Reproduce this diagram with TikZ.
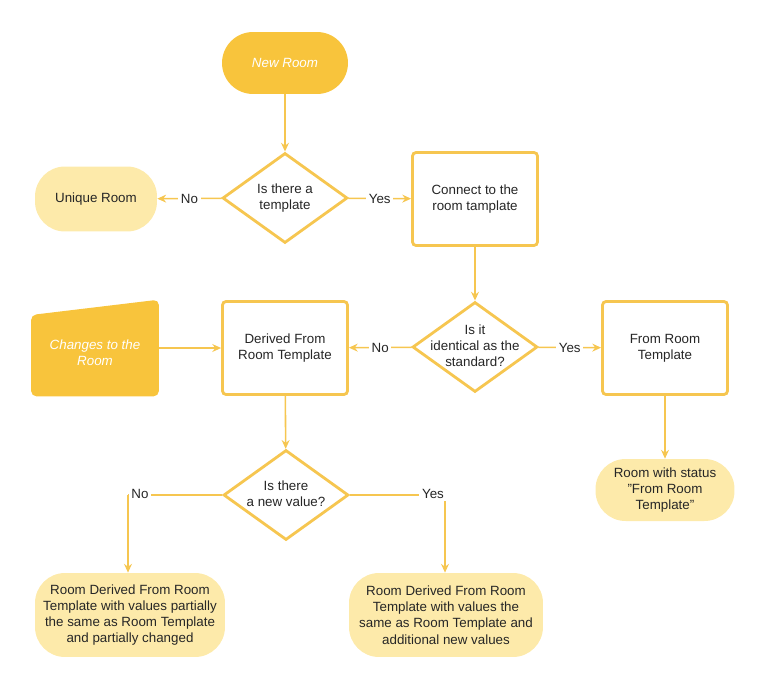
\documentclass[tikz,border=0pt]{standalone}
\usepackage{fontspec}
\setmainfont{Liberation Sans}
\usetikzlibrary{shapes.geometric,arrows.meta,positioning}
\definecolor{goldfill}{RGB}{248,196,60}
\definecolor{palefill}{RGB}{253,234,170}
\definecolor{goldline}{RGB}{246,198,80}
\newcommand{\dlines}[1]{\makebox[0pt]{\begin{tabular}{@{}c@{}}#1\end{tabular}}}

\begin{document}
\begin{tikzpicture}[x=0.02cm,y=-0.02cm,
    every node/.style={font=\fontsize{7.6}{9.2}\selectfont, text=black!85},
    link/.style={goldline, line width=0.9pt, -{Stealth[length=5pt,width=4.5pt]}},
    plain/.style={goldline, line width=0.9pt},
    start/.style={fill=goldfill, draw=none, rounded corners=0.62cm, minimum width=2.52cm, minimum height=1.24cm, text=white, font=\fontsize{7.6}{9.2}\selectfont\itshape},
    endpill/.style={fill=palefill, draw=none, rounded corners=0.6cm, align=center},
    box/.style={draw=goldline, line width=1.6pt, fill=white, rounded corners=2pt, minimum width=2.5cm, minimum height=1.86cm, align=center},
    ask/.style={diamond, draw=goldline, line width=1.6pt, fill=white, inner sep=0pt, minimum width=2.5cm, minimum height=1.8cm},
    tag/.style={fill=white, inner sep=1.5pt}]
    \useasboundingbox (0,0) rectangle (768,690);
    % top row
    \node[start] (new) at (285,63) {New Room};
    \node[ask] (q1) at (285,198) {\dlines{Is there a\\template}};
    \node[endpill, minimum width=2.44cm, minimum height=1.3cm] (uniq) at (96,199) {Unique Room};
    \node[box] (conn) at (475,199) {Connect to the\\room tamplate};
    % middle row
    \node[ask] (q2) at (475,347) {\dlines{Is it\\identical as the\\standard?}};
    \node[box] (der) at (285,348) {Derived From\\Room Template};
    \node[box] (from) at (665,348) {From Room\\Template};
    \node[minimum width=2.54cm, minimum height=1.92cm, inner sep=0pt] (chg) at (95,348) {};
    \fill[goldfill, rounded corners=3pt] (chg.south west) -- (31,315) -- (chg.north east) -- (chg.south east) -- cycle;
    \node[text=white, font=\fontsize{7.6}{9.2}\selectfont\itshape, align=center] at (95,353) {Changes to the\\Room};
    % bottom row
    \node[ask] (q3) at (286,495) {\dlines{Is there\\a new value?}};
    \node[endpill, minimum width=2.78cm, minimum height=1.24cm] (stat) at (665,490) {Room with status\\"From Room\\Template"};
    \node[endpill, minimum width=3.8cm, minimum height=1.68cm] (part) at (130,615) {Room Derived From Room\\Template with values partially\\the same as Room Template\\and partially changed};
    \node[endpill, minimum width=3.88cm, minimum height=1.68cm] (addv) at (446,615) {Room Derived From Room\\Template with values the\\same as Room Template and\\additional new values};
    % connectors
    \draw[link] (new) -- (q1);
    \draw[link] (q1) -- node[tag] {No} (uniq);
    \draw[link] (q1) -- node[tag] {Yes} (conn);
    \draw[link] (conn) -- (q2);
    \draw[link] (q2) -- node[tag] {No} (der);
    \draw[link] (q2) -- node[tag] {Yes} (from);
    \draw[link] (chg) -- (der);
    \draw[link] (from) -- (stat);
    \draw[link] (der) -- (q3);
    \coordinate (lc) at (128,495);
    \coordinate (rc) at (445,495);
    \draw[plain] (q3.west) -- (lc);
    \draw[link] (lc) -- (part.north -| lc);
    \draw[plain] (q3.east) -- (rc);
    \draw[link] (rc) -- (addv.north -| rc);
    \node[tag] at (140,494) {No};
    \node[tag] at (433,494) {Yes};
\end{tikzpicture}
\end{document}
